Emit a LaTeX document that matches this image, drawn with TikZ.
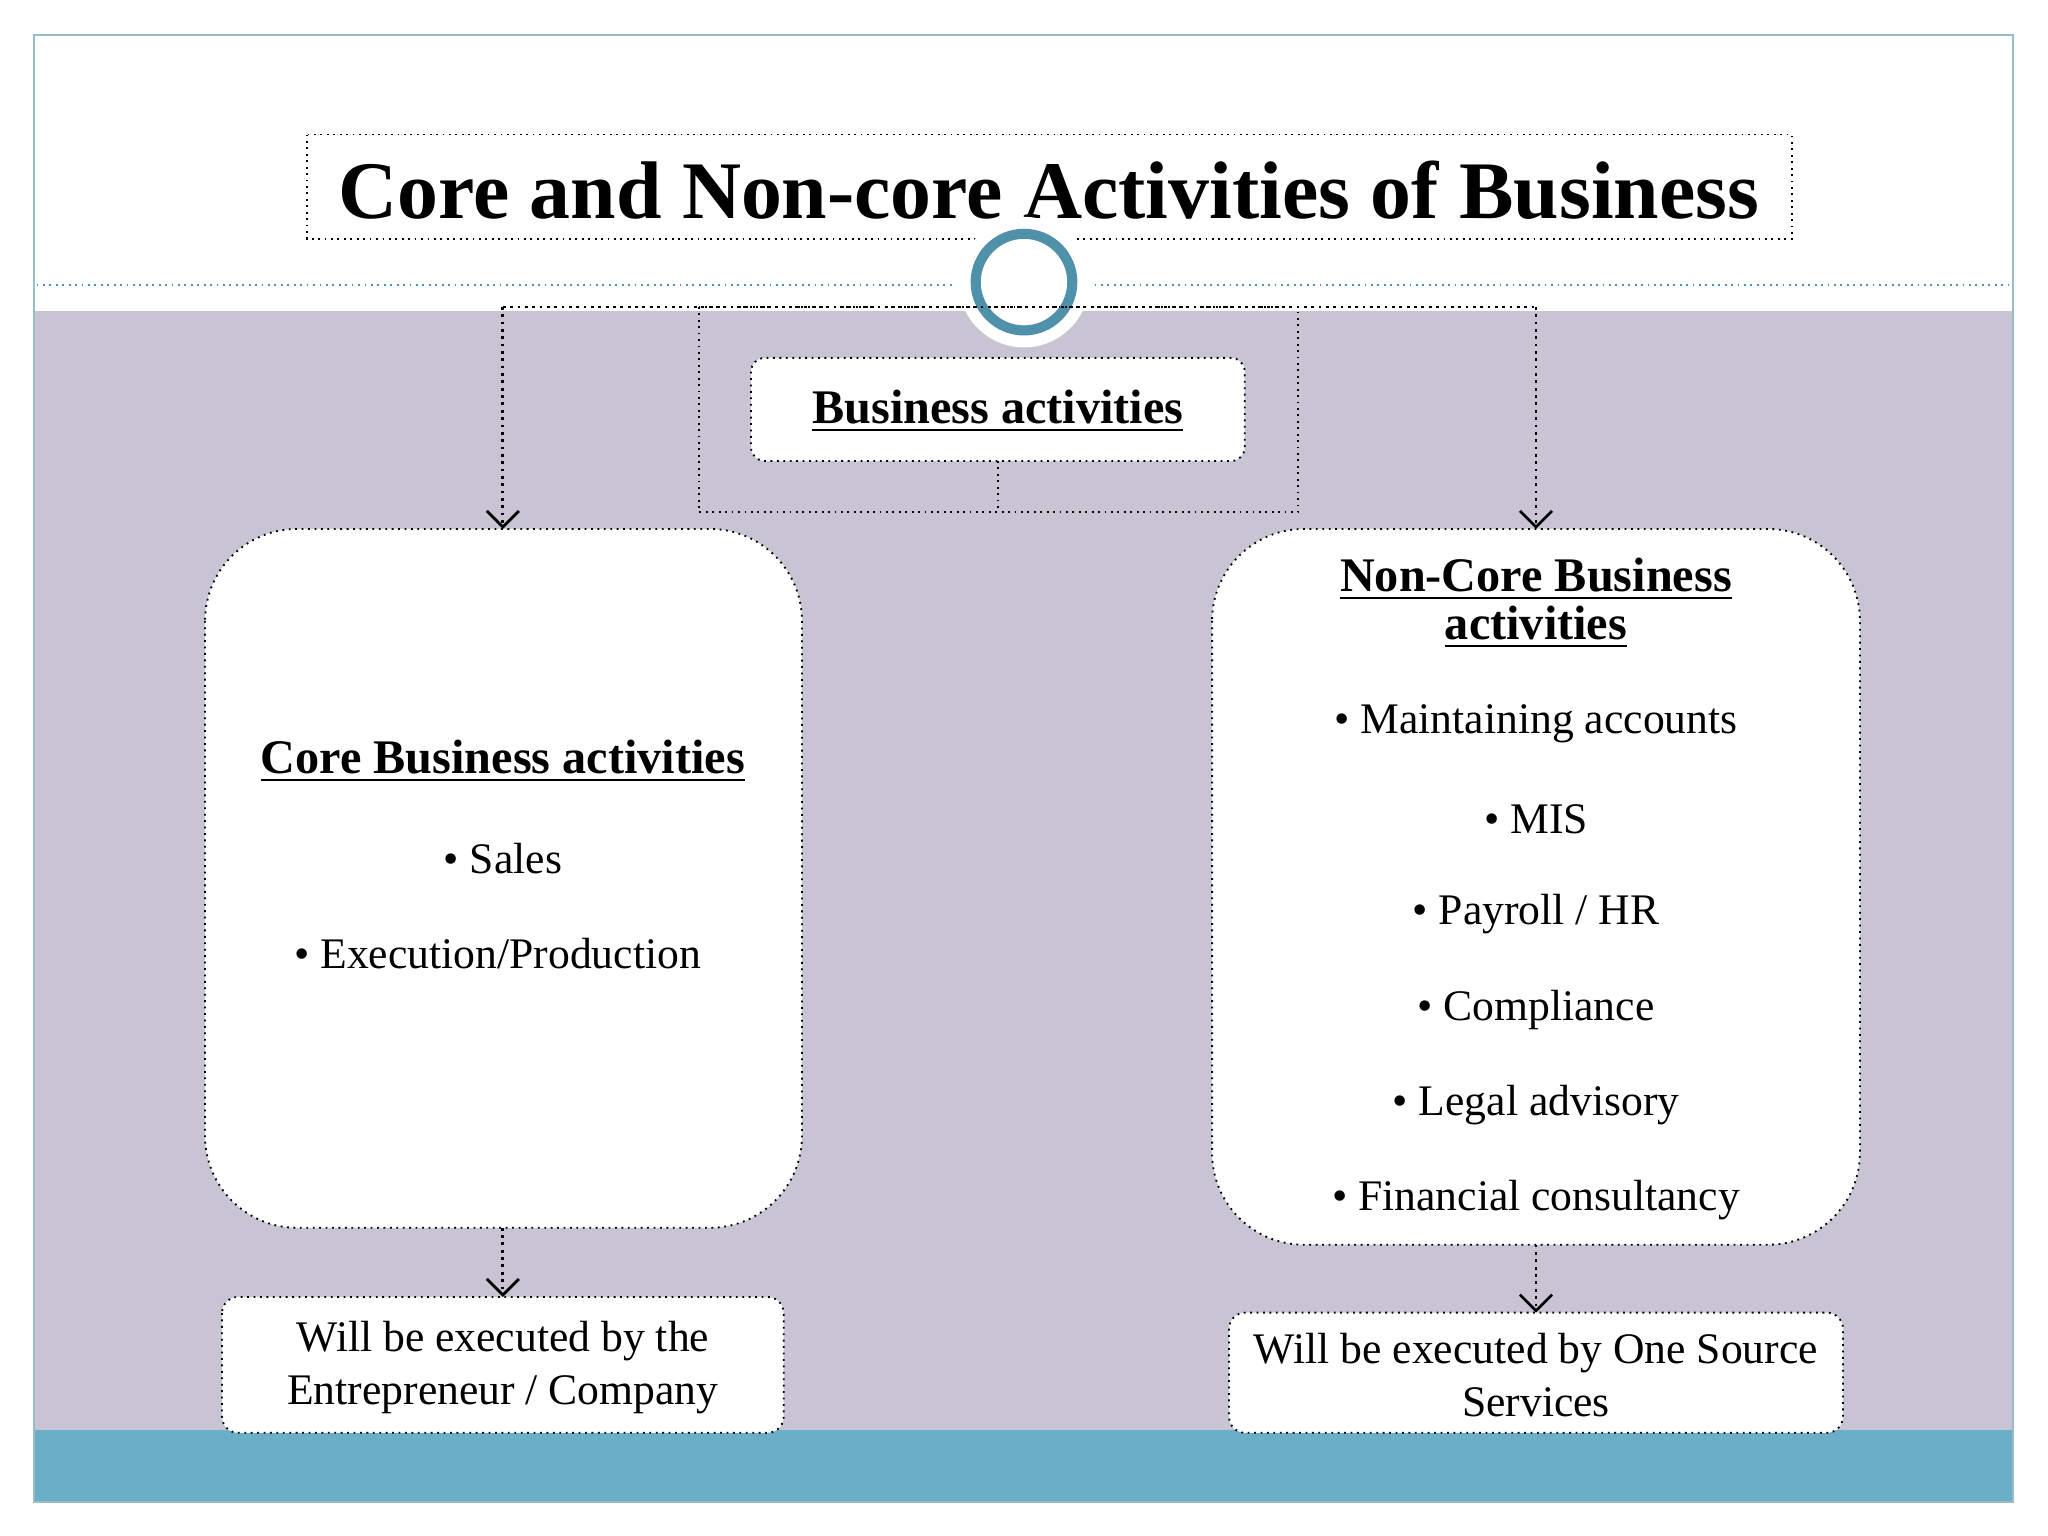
\documentclass[tikz,border=0pt]{standalone}
\usepackage{fontspec}
\setmainfont{Liberation Serif}
\usetikzlibrary{arrows.meta}
\definecolor{bgp}{RGB}{200,196,212}
\definecolor{teal}{RGB}{106,174,200}
\definecolor{ring}{RGB}{80,145,170}
\tikzset{x=0.01cm,y=-0.01cm,
 dbox/.style={draw,densely dotted,fill=white,rounded corners=#1},
 conn/.style={densely dotted,semithick,-{Straight Barb[length=3.5pt,width=7pt]}},
 body/.style={font=\fontsize{9.5}{11.5}\selectfont,align=center},
 head/.style={font=\fontsize{10.5}{11.5}\selectfont\bfseries,align=center}}
\begin{document}
\begin{tikzpicture}
\useasboundingbox (0,0) rectangle (1568,1176);
\fill[white] (0,0) rectangle (1568,1176);
\fill[bgp] (26,238) rectangle (1541,1095);
\fill[teal] (26,1095) rectangle (1541,1150);
\draw[ring!60,thin] (26,27) rectangle (1541,1150);
\draw[ring,densely dotted] (28,218) -- (730,218);
\draw[ring,densely dotted] (838,218) -- (1538,218);
\draw[densely dotted] (235,103) rectangle (1372,183);
\node[font=\fontsize{17.8}{19}\selectfont\bfseries] (tt) at (803,146) {Core and Non-core Activities of Business};
\fill[white] (784,216) circle (50);
\draw[ring,line width=2.2pt] (784,216) circle (37);
\node[coordinate] (tl) at (385,235) {};
\node[coordinate] (tr) at (1176,235) {};
\draw[densely dotted,semithick] (tl) -- (tr);
\draw[densely dotted] (535,235) rectangle (994,392);
\draw[dbox=3pt] (575,274) rectangle (953,353);
\node[head] (ba) at (764,315) {\underline{Business activities}};
\draw[densely dotted] (764,353) -- (764,392);
\draw[dbox=20pt] (157,405) rectangle (614,940);
\draw[dbox=20pt] (928,405) rectangle (1424,953);
\coordinate (lt) at (385,405); \coordinate (rt) at (1176,405);
\coordinate (lb) at (385,940); \coordinate (rb) at (1176,953);
\coordinate (lbt) at (385,993); \coordinate (rbt) at (1176,1005);
\draw[conn] (tl) -- (lt);
\draw[conn] (tr) -- (rt);
\draw[conn] (lb) -- (lbt);
\draw[conn] (rb) -- (rbt);
\node[head] (ch) at (385,583) {\underline{Core Business activities}};
\node[body] (c1) at (385,657) {\textbullet\ Sales};
\node[body] (c2) at (381,730) {\textbullet\ Execution/Production};
\node[head] (nh) at (1176,462) {\underline{Non-Core Business}\\[-1pt]\underline{activities}};
\node[body] (n1) at (1176,554) {\textbullet\ Maintaining accounts};
\node[body] (n2) at (1176,627) {\textbullet\ MIS};
\node[body] (n3) at (1176,700) {\textbullet\ Payroll / HR};
\node[body] (n4) at (1176,773) {\textbullet\ Compliance};
\node[body] (n5) at (1176,846) {\textbullet\ Legal advisory};
\node[body] (n6) at (1176,919) {\textbullet\ Financial consultancy};
\draw[dbox=3.5pt] (170,993) rectangle (600,1097);
\draw[dbox=3.5pt] (941,1005) rectangle (1411,1097);
\node[body] (e1) at (385,1047) {Will be executed by the\\Entrepreneur / Company};
\node[body] (e2) at (1176,1053) {Will be executed by One Source\\Services};
\end{tikzpicture}
\end{document}
